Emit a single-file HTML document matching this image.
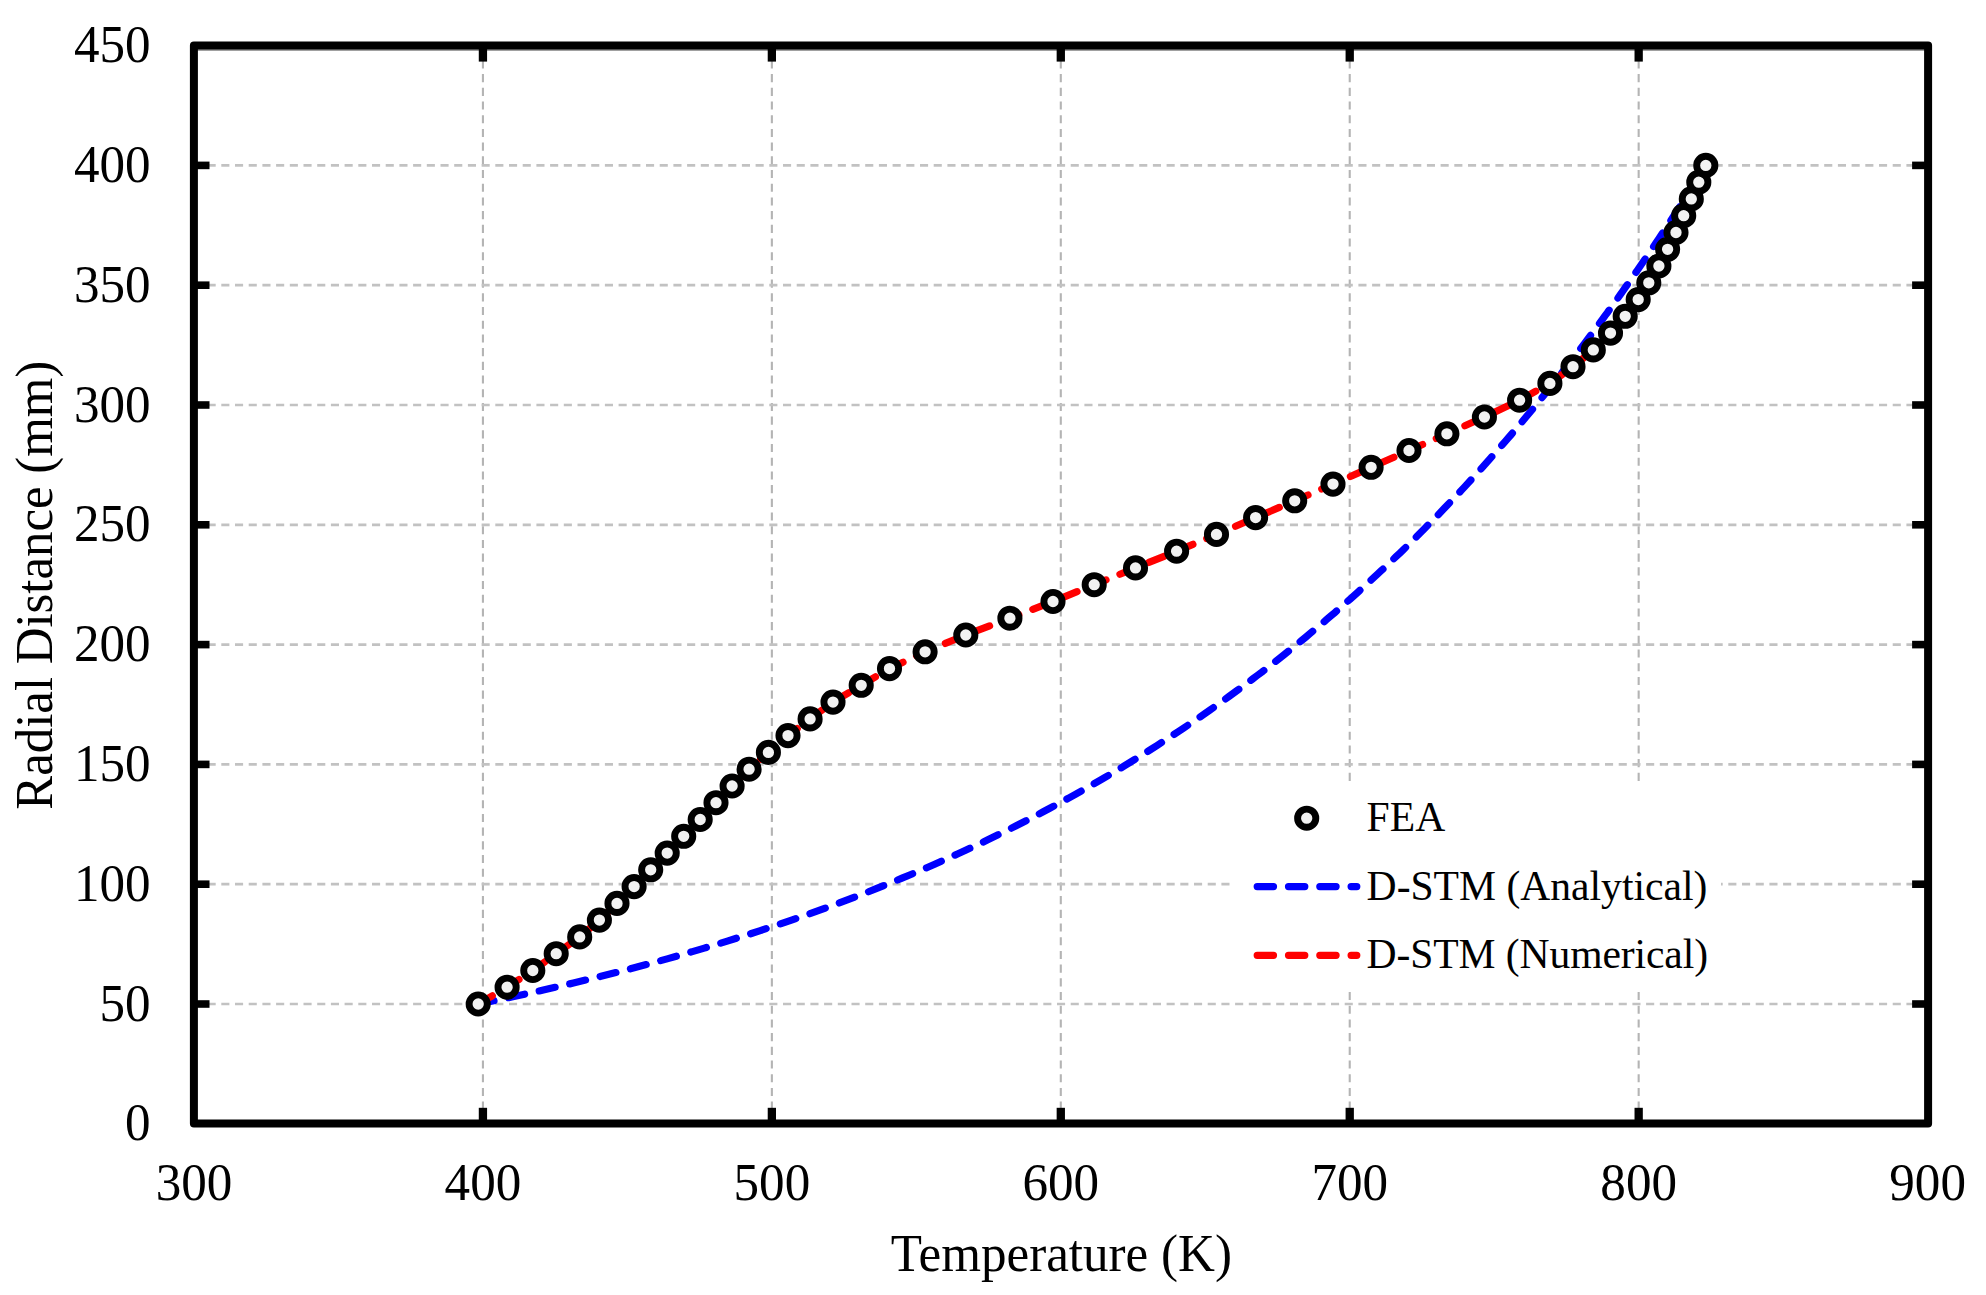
<!DOCTYPE html>
<html lang="en"><head><meta charset="utf-8">
<title>Radial Distance vs Temperature</title>
<style>
html,body{margin:0;padding:0;background:#fff;}
body{width:1986px;height:1295px;overflow:hidden;}
svg{display:block;}
text{font-family:"Liberation Serif", serif;fill:#000;}
.ax{font-size:51.1px;}
.lg{font-size:41.6px;}
</style></head><body>
<svg width="1986" height="1295" viewBox="0 0 1986 1295">
<rect x="0" y="0" width="1986" height="1295" fill="#ffffff"/>
<g stroke="#b4b4b4" stroke-width="2.1" stroke-dasharray="8.1 5.6" fill="none">
<line x1="482.93" y1="1123.40" x2="482.93" y2="45.40"/>
<line x1="771.87" y1="1123.40" x2="771.87" y2="45.40"/>
<line x1="1060.80" y1="1123.40" x2="1060.80" y2="45.40"/>
<line x1="1349.73" y1="1123.40" x2="1349.73" y2="45.40"/>
<line x1="1638.67" y1="1123.40" x2="1638.67" y2="45.40"/>
</g>
<g stroke="#c2c2c2" stroke-width="2.7" stroke-dasharray="8.1 5.6" fill="none">
<line x1="193.90" y1="1004.00" x2="1928.10" y2="1004.00"/>
<line x1="193.90" y1="884.20" x2="1928.10" y2="884.20"/>
<line x1="193.90" y1="764.40" x2="1928.10" y2="764.40"/>
<line x1="193.90" y1="644.60" x2="1928.10" y2="644.60"/>
<line x1="193.90" y1="524.80" x2="1928.10" y2="524.80"/>
<line x1="193.90" y1="405.00" x2="1928.10" y2="405.00"/>
<line x1="193.90" y1="285.20" x2="1928.10" y2="285.20"/>
<line x1="193.90" y1="165.40" x2="1928.10" y2="165.40"/>
</g>
<rect x="1234" y="782" width="487" height="209" fill="#ffffff"/>
<path d="M478.2 1004.0 L495.2 1000.5 L511.7 997.0 L527.7 993.5 L543.3 990.0 L558.6 986.5 L573.4 983.0 L587.9 979.5 L602.0 976.0 L615.8 972.6 L629.3 969.1 L642.5 965.6 L655.4 962.1 L668.0 958.6 L680.3 955.1 L692.4 951.6 L704.3 948.1 L715.9 944.6 L727.3 941.1 L738.5 937.6 L749.5 934.1 L760.3 930.6 L770.8 927.1 L781.2 923.6 L791.5 920.1 L801.5 916.6 L811.4 913.2 L821.1 909.7 L830.6 906.2 L840.0 902.7 L849.3 899.2 L858.4 895.7 L867.4 892.2 L876.2 888.7 L884.9 885.2 L893.5 881.7 L902.0 878.2 L910.3 874.7 L918.5 871.2 L926.7 867.7 L934.7 864.2 L942.5 860.7 L950.3 857.2 L958.0 853.8 L965.6 850.3 L973.1 846.8 L980.5 843.3 L987.8 839.8 L995.0 836.3 L1002.2 832.8 L1009.2 829.3 L1016.2 825.8 L1023.1 822.3 L1029.9 818.8 L1036.6 815.3 L1043.2 811.8 L1049.8 808.3 L1056.3 804.8 L1062.7 801.3 L1069.1 797.8 L1075.4 794.3 L1081.6 790.9 L1087.8 787.4 L1093.9 783.9 L1099.9 780.4 L1105.9 776.9 L1111.8 773.4 L1117.7 769.9 L1123.5 766.4 L1129.2 762.9 L1134.9 759.4 L1140.5 755.9 L1146.1 752.4 L1151.7 748.9 L1157.1 745.4 L1162.6 741.9 L1167.9 738.4 L1173.3 734.9 L1178.5 731.5 L1183.8 728.0 L1189.0 724.5 L1194.1 721.0 L1199.2 717.5 L1204.3 714.0 L1209.3 710.5 L1214.2 707.0 L1219.2 703.5 L1224.1 700.0 L1228.9 696.5 L1233.7 693.0 L1238.5 689.5 L1243.2 686.0 L1247.9 682.5 L1252.6 679.0 L1257.2 675.5 L1261.8 672.1 L1266.3 668.6 L1270.8 665.1 L1275.3 661.6 L1279.8 658.1 L1284.2 654.6 L1288.6 651.1 L1292.9 647.6 L1297.2 644.1 L1301.5 640.6 L1305.8 637.1 L1310.0 633.6 L1314.2 630.1 L1318.3 626.6 L1322.5 623.1 L1326.6 619.6 L1330.7 616.1 L1334.7 612.7 L1338.7 609.2 L1342.7 605.7 L1346.7 602.2 L1350.6 598.7 L1354.5 595.2 L1358.4 591.7 L1362.3 588.2 L1366.1 584.7 L1369.9 581.2 L1373.7 577.7 L1377.5 574.2 L1381.2 570.7 L1385.0 567.2 L1388.7 563.7 L1392.3 560.2 L1396.0 556.7 L1399.6 553.3 L1403.2 549.8 L1406.8 546.3 L1410.4 542.8 L1413.9 539.3 L1417.4 535.8 L1420.9 532.3 L1424.4 528.8 L1427.8 525.3 L1431.3 521.8 L1434.7 518.3 L1438.1 514.8 L1441.5 511.3 L1444.8 507.8 L1448.2 504.3 L1451.5 500.8 L1454.8 497.3 L1458.1 493.9 L1461.3 490.4 L1464.6 486.9 L1467.8 483.4 L1471.0 479.9 L1474.2 476.4 L1477.4 472.9 L1480.6 469.4 L1483.7 465.9 L1486.8 462.4 L1489.9 458.9 L1493.0 455.4 L1496.1 451.9 L1499.2 448.4 L1502.2 444.9 L1505.3 441.4 L1508.3 437.9 L1511.3 434.5 L1514.3 431.0 L1517.2 427.5 L1520.2 424.0 L1523.1 420.5 L1526.0 417.0 L1529.0 413.5 L1531.9 410.0 L1534.7 406.5 L1537.6 403.0 L1540.5 399.5 L1543.3 396.0 L1546.1 392.5 L1548.9 389.0 L1551.7 385.5 L1554.5 382.0 L1557.3 378.5 L1560.1 375.0 L1562.8 371.6 L1565.6 368.1 L1568.3 364.6 L1571.0 361.1 L1573.7 357.6 L1576.4 354.1 L1579.0 350.6 L1581.7 347.1 L1584.4 343.6 L1587.0 340.1 L1589.6 336.6 L1592.2 333.1 L1594.8 329.6 L1597.4 326.1 L1600.0 322.6 L1602.6 319.1 L1605.1 315.6 L1607.7 312.2 L1610.2 308.7 L1612.7 305.2 L1615.3 301.7 L1617.8 298.2 L1620.3 294.7 L1622.7 291.2 L1625.2 287.7 L1627.7 284.2 L1630.1 280.7 L1632.6 277.2 L1635.0 273.7 L1637.4 270.2 L1639.8 266.7 L1642.2 263.2 L1644.6 259.7 L1647.0 256.2 L1649.4 252.8 L1651.7 249.3 L1654.1 245.8 L1656.4 242.3 L1658.8 238.8 L1661.1 235.3 L1663.4 231.8 L1665.7 228.3 L1668.0 224.8 L1670.3 221.3 L1672.6 217.8 L1674.9 214.3 L1677.1 210.8 L1679.4 207.3 L1681.6 203.8 L1683.9 200.3 L1686.1 196.8 L1688.3 193.4 L1690.5 189.9 L1692.7 186.4 L1694.9 182.9 L1697.1 179.4 L1699.3 175.9 L1701.5 172.4 L1703.6 168.9 L1705.8 165.4" fill="none" stroke="#0000ff" stroke-width="7.2" stroke-linecap="round" stroke-linejoin="round" stroke-dasharray="16.3 15.0" stroke-dashoffset="0.2"/>
<path d="M478.2 1004.0 L507.1 987.2 L532.8 970.5 L556.2 953.7 L579.7 936.9 L599.4 920.1 L617.0 903.4 L634.1 886.6 L650.7 869.8 L667.2 853.1 L683.7 836.3 L700.2 819.5 L716.0 802.7 L732.1 786.0 L749.1 769.2 L768.4 752.4 L788.0 735.6 L810.1 718.9 L833.0 702.1 L861.2 685.3 L889.5 668.6 L925.1 651.8 L965.8 635.0 L1009.9 618.2 L1053.0 601.5 L1094.2 584.7 L1135.5 567.9 L1176.6 551.2 L1216.5 534.4 L1255.6 517.6 L1294.7 500.8 L1333.0 484.1 L1371.1 467.3 L1409.0 450.5 L1446.9 433.8 L1484.4 417.0 L1519.6 400.2 L1549.9 383.4 L1573.0 366.7 L1593.3 349.9 L1610.5 333.1 L1625.2 316.3 L1638.2 299.6 L1648.8 282.8 L1658.9 266.0 L1667.6 249.3 L1676.0 232.5 L1683.7 215.7 L1691.3 198.9 L1698.8 182.2 L1705.8 165.4" fill="none" stroke="#ff0000" stroke-width="7.2" stroke-linecap="round" stroke-linejoin="round" stroke-dasharray="16.3 15.0" stroke-dashoffset="0"/>
<g fill="#f2f2f2" stroke="#000000" stroke-width="6.9">
<circle cx="478.2" cy="1004.0" r="9.1"/>
<circle cx="507.1" cy="987.2" r="9.1"/>
<circle cx="532.8" cy="970.5" r="9.1"/>
<circle cx="556.2" cy="953.7" r="9.1"/>
<circle cx="579.7" cy="936.9" r="9.1"/>
<circle cx="599.4" cy="920.1" r="9.1"/>
<circle cx="617.0" cy="903.4" r="9.1"/>
<circle cx="634.1" cy="886.6" r="9.1"/>
<circle cx="650.7" cy="869.8" r="9.1"/>
<circle cx="667.2" cy="853.1" r="9.1"/>
<circle cx="683.7" cy="836.3" r="9.1"/>
<circle cx="700.2" cy="819.5" r="9.1"/>
<circle cx="716.0" cy="802.7" r="9.1"/>
<circle cx="732.1" cy="786.0" r="9.1"/>
<circle cx="749.1" cy="769.2" r="9.1"/>
<circle cx="768.4" cy="752.4" r="9.1"/>
<circle cx="788.0" cy="735.6" r="9.1"/>
<circle cx="810.1" cy="718.9" r="9.1"/>
<circle cx="833.0" cy="702.1" r="9.1"/>
<circle cx="861.2" cy="685.3" r="9.1"/>
<circle cx="889.5" cy="668.6" r="9.1"/>
<circle cx="925.1" cy="651.8" r="9.1"/>
<circle cx="965.8" cy="635.0" r="9.1"/>
<circle cx="1009.9" cy="618.2" r="9.1"/>
<circle cx="1053.0" cy="601.5" r="9.1"/>
<circle cx="1094.2" cy="584.7" r="9.1"/>
<circle cx="1135.5" cy="567.9" r="9.1"/>
<circle cx="1176.6" cy="551.2" r="9.1"/>
<circle cx="1216.5" cy="534.4" r="9.1"/>
<circle cx="1255.6" cy="517.6" r="9.1"/>
<circle cx="1294.7" cy="500.8" r="9.1"/>
<circle cx="1333.0" cy="484.1" r="9.1"/>
<circle cx="1371.1" cy="467.3" r="9.1"/>
<circle cx="1409.0" cy="450.5" r="9.1"/>
<circle cx="1446.9" cy="433.8" r="9.1"/>
<circle cx="1484.4" cy="417.0" r="9.1"/>
<circle cx="1519.6" cy="400.2" r="9.1"/>
<circle cx="1549.9" cy="383.4" r="9.1"/>
<circle cx="1573.0" cy="366.7" r="9.1"/>
<circle cx="1593.3" cy="349.9" r="9.1"/>
<circle cx="1610.5" cy="333.1" r="9.1"/>
<circle cx="1625.2" cy="316.3" r="9.1"/>
<circle cx="1638.2" cy="299.6" r="9.1"/>
<circle cx="1648.8" cy="282.8" r="9.1"/>
<circle cx="1658.9" cy="266.0" r="9.1"/>
<circle cx="1667.6" cy="249.3" r="9.1"/>
<circle cx="1676.0" cy="232.5" r="9.1"/>
<circle cx="1683.7" cy="215.7" r="9.1"/>
<circle cx="1691.3" cy="198.9" r="9.1"/>
<circle cx="1698.8" cy="182.2" r="9.1"/>
<circle cx="1705.8" cy="165.4" r="9.1"/>
</g>
<line x1="193.90" y1="50" x2="1928.10" y2="50" stroke="#a0a0a0" stroke-width="2"/>
<rect x="193.90" y="45.40" width="1734.20" height="1078.00" fill="none" stroke="#000" stroke-width="8.0" stroke-linejoin="round"/>
<g stroke="#000" stroke-width="8.299999999999999">
<line x1="482.93" y1="1123.40" x2="482.93" y2="1107.80"/>
<line x1="482.93" y1="45.40" x2="482.93" y2="61.60"/>
<line x1="771.87" y1="1123.40" x2="771.87" y2="1107.80"/>
<line x1="771.87" y1="45.40" x2="771.87" y2="61.60"/>
<line x1="1060.80" y1="1123.40" x2="1060.80" y2="1107.80"/>
<line x1="1060.80" y1="45.40" x2="1060.80" y2="61.60"/>
<line x1="1349.73" y1="1123.40" x2="1349.73" y2="1107.80"/>
<line x1="1349.73" y1="45.40" x2="1349.73" y2="61.60"/>
<line x1="1638.67" y1="1123.40" x2="1638.67" y2="1107.80"/>
<line x1="1638.67" y1="45.40" x2="1638.67" y2="61.60"/>
</g>
<g stroke="#000" stroke-width="7.6">
<line x1="193.90" y1="1004.00" x2="209.50" y2="1004.00"/>
<line x1="1928.10" y1="1004.00" x2="1912.10" y2="1004.00"/>
<line x1="193.90" y1="884.20" x2="209.50" y2="884.20"/>
<line x1="1928.10" y1="884.20" x2="1912.10" y2="884.20"/>
<line x1="193.90" y1="764.40" x2="209.50" y2="764.40"/>
<line x1="1928.10" y1="764.40" x2="1912.10" y2="764.40"/>
<line x1="193.90" y1="644.60" x2="209.50" y2="644.60"/>
<line x1="1928.10" y1="644.60" x2="1912.10" y2="644.60"/>
<line x1="193.90" y1="524.80" x2="209.50" y2="524.80"/>
<line x1="1928.10" y1="524.80" x2="1912.10" y2="524.80"/>
<line x1="193.90" y1="405.00" x2="209.50" y2="405.00"/>
<line x1="1928.10" y1="405.00" x2="1912.10" y2="405.00"/>
<line x1="193.90" y1="285.20" x2="209.50" y2="285.20"/>
<line x1="1928.10" y1="285.20" x2="1912.10" y2="285.20"/>
<line x1="193.90" y1="165.40" x2="209.50" y2="165.40"/>
<line x1="1928.10" y1="165.40" x2="1912.10" y2="165.40"/>
</g>
<text class="ax" text-anchor="end" transform="translate(150.60 1140.30) scale(1 1.03)">0</text>
<text class="ax" text-anchor="end" transform="translate(150.60 1020.50) scale(1 1.03)">50</text>
<text class="ax" text-anchor="end" transform="translate(150.60 900.70) scale(1 1.03)">100</text>
<text class="ax" text-anchor="end" transform="translate(150.60 780.90) scale(1 1.03)">150</text>
<text class="ax" text-anchor="end" transform="translate(150.60 661.10) scale(1 1.03)">200</text>
<text class="ax" text-anchor="end" transform="translate(150.60 541.30) scale(1 1.03)">250</text>
<text class="ax" text-anchor="end" transform="translate(150.60 421.50) scale(1 1.03)">300</text>
<text class="ax" text-anchor="end" transform="translate(150.60 301.70) scale(1 1.03)">350</text>
<text class="ax" text-anchor="end" transform="translate(150.60 181.90) scale(1 1.03)">400</text>
<text class="ax" text-anchor="end" transform="translate(150.60 62.10) scale(1 1.03)">450</text>
<text class="ax" text-anchor="middle" transform="translate(194.00 1199.90) scale(1 1.03)">300</text>
<text class="ax" text-anchor="middle" transform="translate(482.93 1199.90) scale(1 1.03)">400</text>
<text class="ax" text-anchor="middle" transform="translate(771.87 1199.90) scale(1 1.03)">500</text>
<text class="ax" text-anchor="middle" transform="translate(1060.80 1199.90) scale(1 1.03)">600</text>
<text class="ax" text-anchor="middle" transform="translate(1349.73 1199.90) scale(1 1.03)">700</text>
<text class="ax" text-anchor="middle" transform="translate(1638.67 1199.90) scale(1 1.03)">800</text>
<text class="ax" text-anchor="middle" transform="translate(1927.60 1199.90) scale(1 1.03)">900</text>
<text class="ax" text-anchor="middle" transform="translate(1061.40 1270.50) scale(1 1.03)">Temperature (K)</text>
<text class="ax" text-anchor="middle" transform="translate(52.40 585.20) rotate(-90) scale(1 1.03)" style="font-size:50.85px">Radial Distance (mm)</text>
<circle cx="1306.7" cy="818.2" r="9.1" fill="#f2f2f2" stroke="#000" stroke-width="6.9"/>
<line x1="1257.20" y1="886.6" x2="1356.80" y2="886.6" stroke="#0000ff" stroke-width="7.2" stroke-linecap="round" stroke-dasharray="16.3 15.0"/>
<line x1="1257.20" y1="955.3" x2="1356.80" y2="955.3" stroke="#ff0000" stroke-width="7.2" stroke-linecap="round" stroke-dasharray="16.3 15.0"/>
<text class="lg" text-anchor="start" transform="translate(1366.60 831.10) scale(1 1.03)">FEA</text>
<text class="lg" text-anchor="start" transform="translate(1366.60 899.50) scale(1 1.03)">D-STM (Analytical)</text>
<text class="lg" text-anchor="start" transform="translate(1366.60 968.00) scale(1 1.03)" style="letter-spacing:-0.1px">D-STM (Numerical)</text>
</svg>
</body></html>
